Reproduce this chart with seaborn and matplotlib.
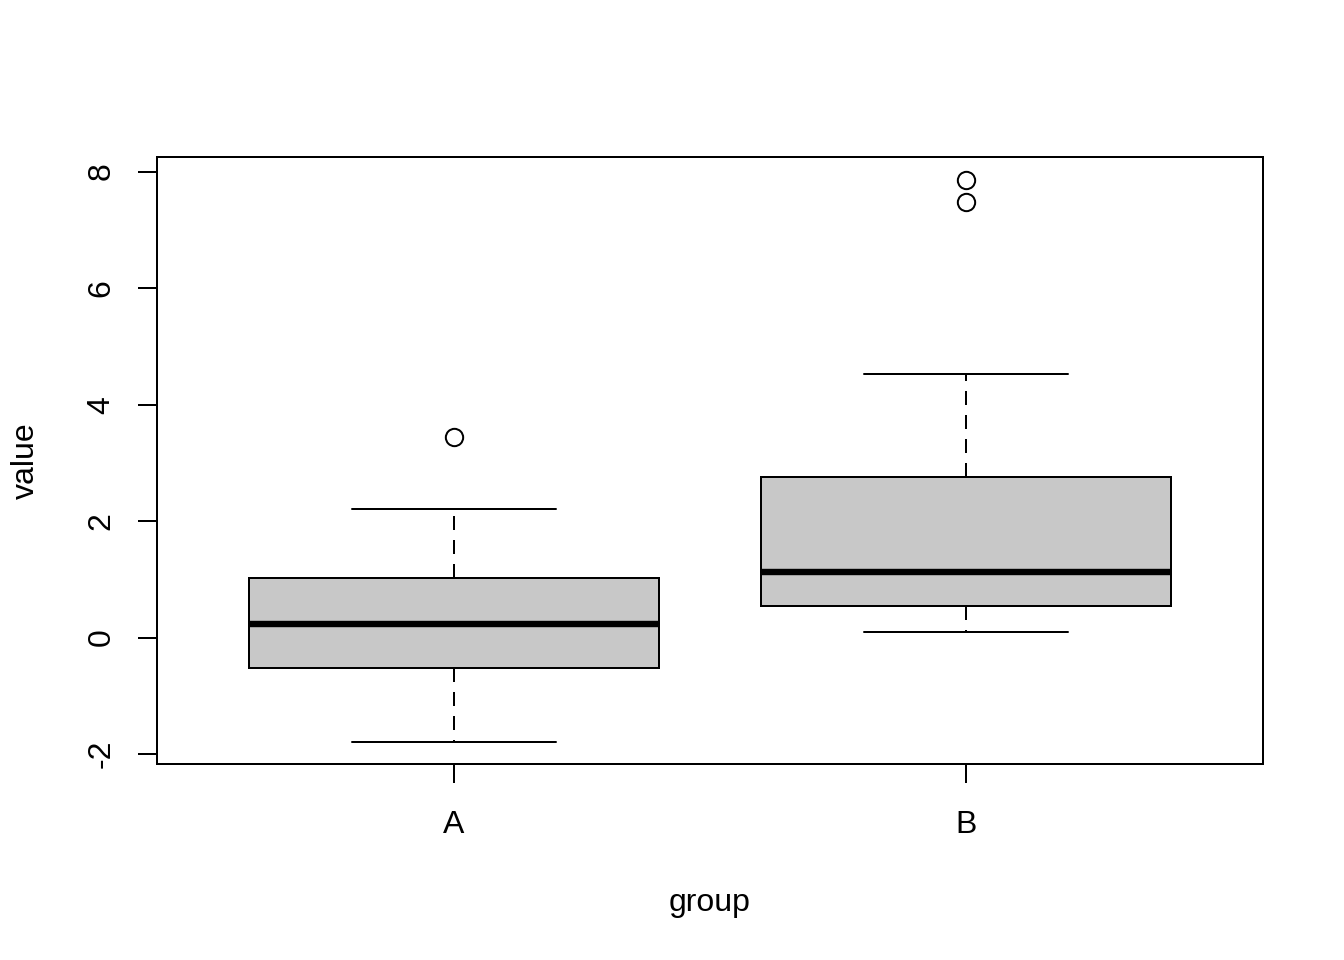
import matplotlib
matplotlib.use("Agg")
import matplotlib.pyplot as plt
import seaborn as sns
import pandas as pd

# values per group (read from the box/whisker/outlier positions)
group_a = [-1.785, -1.2, -0.8, -0.53, -0.3, 0.05, 0.24, 0.5, 0.8, 1.03, 1.6, 2.20, 3.45]
group_b = [0.10, 0.3, 0.45, 0.55, 0.8, 1.0, 1.13, 1.6, 2.2, 2.75, 4.53, 7.47, 7.86]
groups = ["A", "B"]
y_ticks = [-2, 0, 2, 4, 6, 8]
y_labels = ["-2", "0", "2", "4", "6", "8"]

df = pd.DataFrame({
    "group": ["A"] * len(group_a) + ["B"] * len(group_b),
    "value": group_a + group_b,
})

sns.set_style("ticks")
plt.rcParams["font.family"] = ["Liberation Sans", "DejaVu Sans"]
plt.rcParams["font.size"] = 12
plt.rcParams["text.color"] = "black"
plt.rcParams["axes.labelcolor"] = "black"
plt.rcParams["xtick.color"] = "black"
plt.rcParams["ytick.color"] = "black"

fig = plt.figure(figsize=(7, 5), dpi=192)
ax = fig.add_axes([157 / 1344, 1 - 764 / 960, (1263 - 157) / 1344, (764 - 157) / 960])

lw = 0.75
sns.boxplot(
    data=df, x="group", y="value", order=groups, ax=ax,
    width=0.8, whis=1.5, color="#C8C8C8", linecolor="black", linewidth=lw,
    boxprops=dict(edgecolor="black", linewidth=lw),
    medianprops=dict(color="black", linewidth=2.4),
    whiskerprops=dict(color="black", linewidth=lw, linestyle=(0, (7, 5))),
    capprops=dict(color="black", linewidth=lw),
    flierprops=dict(marker="o", markerfacecolor="none", markeredgecolor="black",
                    markeredgewidth=lw, markersize=6.5),
    saturation=1,
)

ax.set_xlim(-0.58, 1.58)
ax.set_ylim(-2.17, 8.25)
ax.set_yticks(y_ticks)
ax.set_yticklabels(y_labels, rotation=90, va="center")
ax.set_xlabel("group", fontsize=12, labelpad=18, color="black")
ax.set_ylabel("value", fontsize=12, labelpad=17, color="black")

for side in ["top", "right", "left", "bottom"]:
    ax.spines[side].set_visible(True)
    ax.spines[side].set_linewidth(lw)
    ax.spines[side].set_color("black")
ax.tick_params(axis="both", direction="out", length=7.2, width=lw, color="black",
               labelcolor="black", labelsize=12)
ax.tick_params(axis="x", pad=10)
ax.tick_params(axis="y", pad=8)
ax.grid(False)

fig.savefig("out.png", dpi=192, facecolor="white")
